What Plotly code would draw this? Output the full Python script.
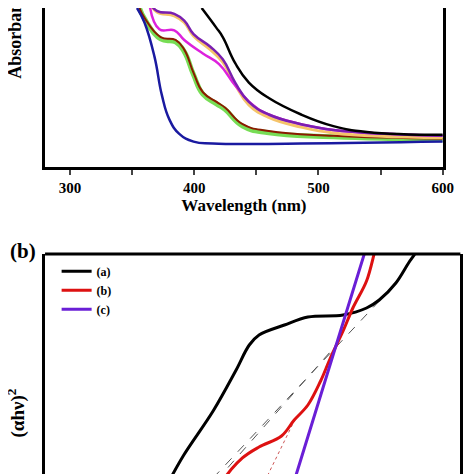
import plotly.graph_objects as go
from plotly.subplots import make_subplots

# panel (a): absorbance spectra (values in arbitrary units)
wl_blue = [354, 360, 368, 374, 380, 388, 399.5, 415, 486, 600]
ab_blue = [164, 149, 114, 74, 49, 34, 26, 24, 24, 26]
wl_black = [406, 417.6, 423, 433, 444, 460, 486, 512, 539, 600]
ab_black = [164, 144, 134, 107, 87, 71, 54, 42, 36, 33]
wl_purple = [364, 370, 384, 392, 399.5, 413, 423, 433, 444, 460, 486, 512, 600]
ab_purple = [170, 161, 158, 151, 137, 124, 111, 87, 67, 54, 44, 38, 32]
wl_orange = [364, 370, 384, 392, 399.5, 413, 423, 433, 444, 460, 486, 512, 600]
ab_orange = [170, 160, 156, 149, 135, 121, 108, 85, 64, 51, 41, 35, 30]
wl_magenta = [364, 372, 384, 392, 407, 420, 433, 447, 460, 486, 512, 600]
ab_magenta = [168, 142, 141, 131, 117, 106, 84, 64, 54, 44, 38, 32]
wl_red = [356, 360, 373, 385, 392, 399.5, 407, 418, 425, 439, 460, 512, 600]
ab_red = [164, 154, 134, 131, 121, 97, 77, 67, 61, 44, 37, 32, 29]
wl_green = [356, 360, 373, 385, 392, 399.5, 407, 418, 425, 439, 460, 512, 600]
ab_green = [164, 153, 132, 129, 119, 95, 75, 65, 59, 42, 35, 31, 28]

# panel (b): Tauc plot (arbitrary units)
e_a = [165, 180, 210, 233, 247, 257, 283, 307, 343, 367, 380, 397, 410, 417, 422]
t_a = [1, 27, 71, 111, 137, 147, 157, 165, 167, 174, 182, 199, 219, 229, 240]
e_b = [215, 220, 240, 257, 280, 293, 307, 320, 330, 343, 353, 367, 375, 378]
t_b = [-10, 1, 24, 35, 46, 62, 77, 101, 124, 151, 174, 201, 229, 240]
e_c = [290, 293, 365, 369]
t_c = [-10, 1, 229, 240]
fit1_x = [210, 380]
fit1_y = [4, 181]
fit2_x = [213, 336]
fit2_y = [1, 137]
fit3_x = [263, 293]
fit3_y = [1, 61]

fig = make_subplots(rows=2, cols=1)
font = "Liberation Serif"

top = [
    (wl_green, ab_green, "#77dd55", 5),
    (wl_red, ab_red, "#8b1a00", 2),
    (wl_orange, ab_orange, "#f5c46a", 3),
    (wl_magenta, ab_magenta, "#dd22dd", 2.5),
    (wl_purple, ab_purple, "#7a1fb0", 2.5),
    (wl_black, ab_black, "#000000", 2.5),
    (wl_blue, ab_blue, "#1a1aa0", 2.5),
]
for x, y, c, w in top:
    fig.add_trace(go.Scatter(x=x, y=y, mode="lines", line=dict(color=c, width=w, shape="spline", smoothing=1.3),
                             showlegend=False), row=1, col=1)

for x, y in [(fit1_x, fit1_y), (fit2_x, fit2_y)]:
    fig.add_trace(go.Scatter(x=x, y=y, mode="lines", line=dict(color="#555555", width=1, dash="dash"),
                             showlegend=False), row=2, col=1)
fig.add_trace(go.Scatter(x=fit3_x, y=fit3_y, mode="lines", line=dict(color="#cc5555", width=1, dash="dot"),
                         showlegend=False), row=2, col=1)
fig.add_trace(go.Scatter(x=e_a, y=t_a, mode="lines", name="(a)", line=dict(color="black", width=3, shape="spline")), row=2, col=1)
fig.add_trace(go.Scatter(x=e_b, y=t_b, mode="lines", name="(b)", line=dict(color="#dd1111", width=3, shape="spline")), row=2, col=1)
fig.add_trace(go.Scatter(x=e_c, y=t_c, mode="lines", name="(c)", line=dict(color="#6a1fd6", width=3)), row=2, col=1)

fig.update_layout(
    width=474, height=474, margin=dict(l=0, r=0, t=0, b=0),
    paper_bgcolor="white", plot_bgcolor="white",
    font=dict(family=font, color="black"),
    legend=dict(x=0.105, y=0.475, xanchor="left", yanchor="top", bgcolor="rgba(0,0,0,0)",
                font=dict(size=12, family=font, weight="bold"), tracegroupgap=0, itemwidth=30),
    xaxis=dict(domain=[0.08, 0.939], range=[280, 600], showgrid=False, zeroline=False,
               showline=True, linewidth=3, linecolor="black", ticks="outside", ticklen=5, tickwidth=2,
               tickvals=[300, 350, 400, 450, 500, 550, 600],
               ticktext=["300", "", "400", "", "500", "", "600"],
               tickfont=dict(size=15, weight="bold"),
               title=dict(text="Wavelength (nm)", font=dict(size=17, weight="bold"), standoff=4)),
    yaxis=dict(domain=[0.665, 1], range=[0, 164], showgrid=False, zeroline=False, showticklabels=False,
               showline=True, linewidth=3, linecolor="black", mirror=True, ticks=""),
    xaxis2=dict(domain=[0.08, 0.977], range=[38, 463], showgrid=False, zeroline=False,
                showline=False, showticklabels=False, ticks=""),
    yaxis2=dict(domain=[0, 0.481], range=[0, 228], showgrid=False, zeroline=False, showticklabels=False,
                showline=True, linewidth=3, linecolor="black", mirror=True, ticks=""),
    shapes=[dict(type="line", xref="paper", yref="paper", x0=0.08, x1=0.977, y0=0.481, y1=0.481,
                 line=dict(color="black", width=3))],
    annotations=[
        dict(text="Absorbance", textangle=-90, xref="paper", yref="paper", x=0.042, y=1.05,
             xanchor="right", showarrow=False, font=dict(size=18, weight="bold")),
        dict(text="(b)", xref="paper", yref="paper", x=0.0, y=0.488, xanchor="left", yanchor="middle",
             showarrow=False, font=dict(size=21, weight="bold")),
        dict(text="(αhν)<sup>2</sup>", textangle=-90, xref="paper", yref="paper", x=0.05, y=0.09,
             xanchor="right", showarrow=False, font=dict(size=19, weight="bold")),
    ],
)
fig.write_html("out.html")
